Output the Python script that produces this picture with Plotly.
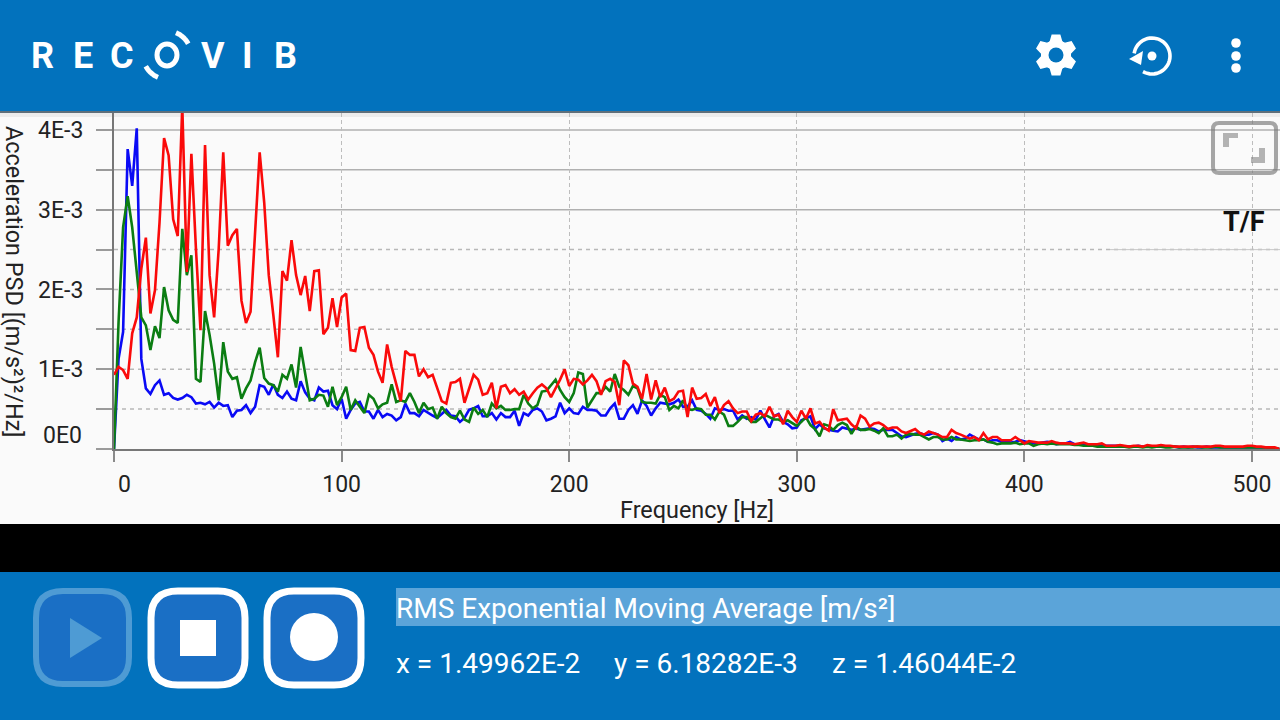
import numpy as np
import plotly.graph_objects as go

# frequency bins [Hz]
freq = [
    0, 2, 4, 6, 8, 10, 12, 14, 16, 18, 20, 22, 24, 26, 28, 30, 32, 34, 36, 38,
    40, 42, 44, 46, 48, 50, 52, 54, 56, 58, 60, 62, 64, 66, 68, 70, 72, 74, 76, 78,
    80, 82, 84, 86, 88, 90, 92, 94, 96, 98, 100, 102, 104, 106, 108, 110, 112, 114, 116, 118,
    120, 122, 124, 126, 128, 130, 132, 134, 136, 138, 140, 142, 144, 146, 148, 150, 152, 154, 156, 158,
    160, 162, 164, 166, 168, 170, 172, 174, 176, 178, 180, 182, 184, 186, 188, 190, 192, 194, 196, 198,
    200, 202, 204, 206, 208, 210, 212, 214, 216, 218, 220, 222, 224, 226, 228, 230, 232, 234, 236, 238,
    240, 242, 244, 246, 248, 250, 252, 254, 256, 258, 260, 262, 264, 266, 268, 270, 272, 274, 276, 278,
    280, 282, 284, 286, 288, 290, 292, 294, 296, 298, 300, 302, 304, 306, 308, 310, 312, 314, 316, 318,
    320, 322, 324, 326, 328, 330, 332, 334, 336, 338, 340, 342, 344, 346, 348, 350, 352, 354, 356, 358,
    360, 362, 364, 366, 368, 370, 372, 374, 376, 378, 380, 382, 384, 386, 388, 390, 392, 394, 396, 398,
    400, 402, 404, 406, 408, 410, 412, 414, 416, 418, 420, 422, 424, 426, 428, 430, 432, 434, 436, 438,
    440, 442, 444, 446, 448, 450, 452, 454, 456, 458, 460, 462, 464, 466, 468, 470, 472, 474, 476, 478,
    480, 482, 484, 486, 488, 490, 492, 494, 496, 498, 500, 502, 504, 506, 508, 510, 512,
]

# PSD per axis, in 1E-3 (m/s²)²/Hz
psd_x = [
    0, 1.13, 1.47, 3.76, 3.30, 4.02, 1.13, .76, .69, .80,
    .86, .68, .70, .64, .62, .64, .68, .65, .57, .58,
    .56, .59, .52, .58, .54, .55, .40, .48, .49, .55,
    .45, .53, .80, .78, .68, .81, .68, .64, .72, .63,
    .61, .85, .71, .63, .61, .77, .72, .73, .55, .50,
    .63, .38, .49, .57, .59, .47, .47, .38, .49, .40,
    .44, .42, .36, .40, .57, .45, .45, .41, .49, .45,
    .42, .39, .44, .49, .42, .41, .34, .39, .49, .51,
    .54, .41, .41, .45, .37, .45, .40, .40, .48, .29,
    .45, .42, .49, .51, .47, .36, .38, .41, .58, .45,
    .51, .45, .44, .53, .49, .49, .48, .42, .42, .51,
    .57, .38, .38, .49, .55, .44, .61, .54, .42, .51,
    .58, .57, .56, .58, .62, .53, .53, .61, .49, .48,
    .44, .38, .51, .49, .50, .48, .48, .37, .42, .38,
    .40, .37, .48, .37, .27, .41, .44, .34, .31, .26,
    .27, .36, .38, .41, .25, .31, .26, .24, .23, .22,
    .27, .25, .24, .26, .24, .25, .26, .25, .22, .24,
    .24, .24, .20, .16, .15, .17, .19, .20, .18, .18,
    .20, .18, .10, .13, .10, .15, .12, .13, .18, .15,
    .12, .12, .09, .11, .11, .09, .10, .08, .09, .11,
    .09, .08, .07, .07, .08, .09, .08, .06, .07, .07,
    .09, .06, .06, .05, .05, .05, .04, .04, .04, .04,
    .04, .04, .03, .03, .03, .04, .03, .03, .03, .03,
    .03, .03, .03, .03, .02, .03, .02, .03, .02, .02,
    .03, .02, .02, .02, .02, .02, .02, .02, .02, .02,
    .02, .02, .02, .02, .01, .01, .00,
]
psd_y = [
    0, 1.59, 2.78, 3.17, 2.78, 2.18, 1.65, 1.55, 1.24, 1.54,
    1.39, 2.03, 1.74, 1.62, 1.58, 2.76, 2.18, 2.43, .88, .84,
    1.73, 1.43, 1.07, .61, 1.34, .97, .88, .90, .63, .76,
    .86, 1.09, 1.27, .89, .82, .80, .72, .93, .88, 1.06,
    .77, 1.28, .93, .61, .63, .68, .67, .53, .78, .55,
    .65, .78, .49, .61, .53, .45, .68, .63, .51, .56,
    .58, .81, .59, .61, .59, .70, .59, .45, .58, .50,
    .52, .38, .53, .45, .40, .38, .48, .37, .34, .52,
    .44, .49, .40, .57, .51, .54, .49, .49, .50, .50,
    .68, .57, .51, .55, .72, .73, .80, .87, .74, .65,
    .59, .70, .96, .94, .52, .61, .70, .70, .78, .72,
    .94, .78, .74, .68, .79, .76, .59, .58, .58, .57,
    .68, .65, .49, .54, .51, .61, .50, .49, .51, .50,
    .43, .43, .37, .47, .43, .29, .29, .34, .40, .40,
    .34, .34, .38, .43, .40, .37, .37, .34, .36, .32,
    .29, .34, .40, .30, .25, .16, .31, .29, .24, .30,
    .33, .30, .19, .28, .24, .24, .25, .23, .20, .26,
    .16, .16, .18, .13, .18, .19, .18, .18, .15, .12,
    .15, .15, .12, .12, .15, .12, .12, .11, .10, .11,
    .11, .12, .09, .08, .06, .07, .07, .07, .08, .06,
    .07, .07, .04, .06, .07, .06, .07, .06, .06, .06,
    .06, .05, .05, .04, .04, .04, .03, .03, .03, .03,
    .03, .03, .03, .02, .03, .03, .02, .03, .02, .03,
    .03, .02, .02, .03, .02, .02, .02, .02, .03, .02,
    .02, .02, .03, .02, .02, .02, .02, .02, .02, .02,
    .02, .02, .02, .02, .02, .01, .00,
]
psd_z = [
    .93, 1.03, .99, .88, 1.45, 1.65, 2.26, 2.65, 1.70, 1.99,
    2.84, 3.90, 3.68, 2.88, 2.67, 4.30, 2.22, 3.70, 2.51, 1.49,
    3.81, 2.18, 1.65, 2.51, 3.72, 2.55, 2.68, 2.76, 1.86, 1.58,
    1.72, 2.76, 3.72, 3.09, 2.18, 1.68, 1.15, 2.23, 2.11, 2.62,
    2.18, 1.93, 2.17, 1.73, 2.23, 2.24, 1.44, 1.52, 1.89, 1.53,
    1.90, 1.95, 1.24, 1.23, 1.52, 1.53, 1.27, 1.18, .97, .83,
    1.31, 1.03, .80, .60, 1.23, 1.18, 1.18, .91, 1.00, .90,
    .93, .76, .60, .57, .83, .84, .88, .58, .76, .93,
    .87, .68, .70, .83, .51, .78, .80, .70, .75, .68,
    .72, .62, .70, .77, .81, .76, .65, .76, .87, 1.00,
    .79, .88, .87, .81, .86, .93, .85, .68, .85, .88,
    .84, .55, 1.11, 1.05, .82, .78, .63, .94, .62, .86,
    .65, .77, .60, .63, .72, .73, .40, .77, .63, .64,
    .69, .54, .65, .45, .55, .60, .51, .45, .47, .47,
    .35, .43, .45, .41, .53, .41, .43, .31, .48, .40,
    .34, .48, .38, .51, .32, .34, .27, .23, .50, .36,
    .37, .38, .31, .26, .42, .38, .28, .32, .33, .30,
    .25, .27, .27, .22, .20, .22, .25, .20, .18, .22,
    .20, .18, .15, .15, .24, .20, .18, .15, .13, .15,
    .11, .20, .12, .15, .15, .11, .11, .11, .15, .11,
    .07, .10, .09, .08, .08, .08, .10, .08, .07, .07,
    .07, .06, .07, .08, .06, .06, .06, .07, .04, .04,
    .04, .05, .04, .03, .04, .04, .03, .05, .04, .04,
    .05, .04, .04, .03, .03, .03, .03, .03, .03, .03,
    .03, .03, .04, .04, .03, .03, .03, .03, .03, .04,
    .04, .03, .03, .02, .02, .02, .00,
]
assert len(freq) == len(psd_x) == len(psd_y) == len(psd_z)

x_ticks = [0, 100, 200, 300, 400, 500]
x_labels = ["", "100", "200", "300", "400", "500"]
y_ticks = [0, .5, 1, 1.5, 2, 2.5, 3, 3.5, 4]
y_labels = ["", "", "1E-3", "", "2E-3", "", "3E-3", "", "4E-3"]
solid_levels = [3, 3.5, 4]
dashed_levels = [.5, 1, 1.5, 2, 2.5]

FONT = "Roboto"
BLUE = "#0272BD"
BUTTON = "#1A6FC5"
WHITE = "#FFFFFF"
FADED = "#5BA4D9"
FADED_DIM = "#4E9BD4"


# the app chrome is positioned in screen pixels
def px(x):
    return x / 1280


def py(y):
    return 1 - y / 720


def path(points, close=True):
    d = "M" + " L".join(f"{px(x):.5f},{py(y):.5f}" for x, y in points)
    return d + (" Z" if close else "")


def rect(x0, y0, x1, y1, fill):
    return dict(type="rect", xref="paper", yref="paper", x0=px(x0), x1=px(x1), y0=py(y1), y1=py(y0),
                fillcolor=fill, line_width=0, layer="below")


def circle(cx, cy, r, fill, layer="above"):
    return dict(type="circle", xref="paper", yref="paper", x0=px(cx - r), x1=px(cx + r),
                y0=py(cy + r), y1=py(cy - r), fillcolor=fill, line_width=0, layer=layer)


def poly(points, fill):
    return dict(type="path", xref="paper", yref="paper", path=path(points), fillcolor=fill, line_width=0)


def round_rect(x0, y0, x1, y1, r, stroke, width, fill="rgba(0,0,0,0)"):
    d = (f"M{px(x0 + r):.5f},{py(y0):.5f} L{px(x1 - r):.5f},{py(y0):.5f} "
         f"Q{px(x1):.5f},{py(y0):.5f} {px(x1):.5f},{py(y0 + r):.5f} L{px(x1):.5f},{py(y1 - r):.5f} "
         f"Q{px(x1):.5f},{py(y1):.5f} {px(x1 - r):.5f},{py(y1):.5f} L{px(x0 + r):.5f},{py(y1):.5f} "
         f"Q{px(x0):.5f},{py(y1):.5f} {px(x0):.5f},{py(y1 - r):.5f} L{px(x0):.5f},{py(y0 + r):.5f} "
         f"Q{px(x0):.5f},{py(y0):.5f} {px(x0 + r):.5f},{py(y0):.5f} Z")
    return dict(type="path", xref="paper", yref="paper", path=d, fillcolor=fill,
                line=dict(color=stroke, width=width))


def arc(cx, cy, r, a0, a1, width, color=WHITE):
    t = np.radians(np.linspace(a0, a1, 40))
    pts = list(zip(cx + r * np.cos(t), cy + r * np.sin(t)))
    return dict(type="path", xref="paper", yref="paper", path=path(pts, close=False),
                line=dict(color=color, width=width))


def gear(cx, cy, r_out, r_in, teeth=6):
    pts = []
    step = 360 / teeth
    for k in range(teeth):
        a = -90 + k * step
        for da, r in [(-step * .42, r_in), (-step * .2, r_out), (step * .2, r_out), (step * .42, r_in)]:
            t = np.radians(a + da)
            pts.append((cx + r * np.cos(t), cy + r * np.sin(t)))
    return pts


def label(x, y, text, size, color="#222222", anchor="center", bold=False, angle=0):
    return dict(xref="paper", yref="paper", x=px(x), y=py(y), text=f"<b>{text}</b>" if bold else text,
                showarrow=False, xanchor=anchor, yanchor="middle", textangle=angle,
                font=dict(family=FONT, size=size, color=color))


fig = go.Figure()
for values, name, color in [(psd_x, "x", "#0A0AF5"), (psd_y, "y", "#0B7D12"), (psd_z, "z", "#FA0A0A")]:
    fig.add_trace(go.Scatter(x=freq, y=[v * 1e-3 for v in values], mode="lines", name=name,
                             line=dict(color=color, width=2.6)))

shapes = [
    rect(0, 113, 1280, 524, "#FAFAFA"),
    rect(0, 524, 1280, 572, "#000000"),
    rect(0, 111, 1280, 113, "#5F6F7A"),
    rect(0, 113, 1280, 117, "#ECECEC"),
    rect(396, 588, 1280, 626, FADED),
]
for level in solid_levels:
    shapes.append(dict(type="line", xref="paper", yref="y", x0=px(114), x1=1, y0=level * 1e-3, y1=level * 1e-3,
                       line=dict(color="#B0B0B0", width=1.5), layer="below"))
for level in dashed_levels:
    shapes.append(dict(type="line", xref="paper", yref="y", x0=px(114), x1=1, y0=level * 1e-3, y1=level * 1e-3,
                       line=dict(color="#B8B8B8", width=1.5, dash="4px,4px"), layer="below"))
shapes.append(dict(type="line", xref="paper", yref="y", x0=px(1110), x1=1, y0=2.5e-3, y1=2.5e-3,
                   line=dict(color="#C8C8C8", width=1), layer="below"))

shapes += [
    # logo rings
    dict(type="circle", xref="paper", yref="paper", x0=px(157), x1=px(177), y0=py(66), y1=py(44),
         fillcolor="rgba(0,0,0,0)", line=dict(color=WHITE, width=5)),
    arc(167, 55, 24, -68, -28, 5),
    arc(167, 55, 24, 112, 152, 5),
    # toolbar icons
    poly(gear(1056, 55, 21, 15), WHITE),
    circle(1056, 55, 15, WHITE),
    circle(1056, 55, 7.5, BLUE),
    arc(1152, 56, 18, 120, -172, 3.6),
    poly([(1129, 59), (1143, 51), (1141, 65)], WHITE),
    circle(1152, 56, 4.5, WHITE),
    circle(1236, 43, 4.8, WHITE),
    circle(1236, 56, 4.8, WHITE),
    circle(1236, 68, 4.8, WHITE),
    # full screen button
    round_rect(1213, 123, 1276, 173, 6, "rgba(120,120,120,.65)", 4),
    poly([(1223, 133), (1238, 133), (1238, 138), (1229, 138), (1229, 147), (1223, 147)], "rgba(120,120,120,.55)"),
    poly([(1265, 148), (1265, 163), (1251, 163), (1251, 157), (1259, 157), (1259, 148)], "rgba(120,120,120,.55)"),
    # transport buttons
    round_rect(36, 591, 129, 684, 27, FADED_DIM, 6, BUTTON),
    poly([(70, 618), (102, 638), (70, 658)], FADED_DIM),
    round_rect(151, 591, 245, 685, 27, WHITE, 7, BUTTON),
    rect(180, 620, 216, 656, WHITE) | {"layer": "above"},
    round_rect(267, 591, 361, 685, 27, WHITE, 7, BUTTON),
    circle(314, 637, 24, WHITE),
]

annotations = [
    label(14, 282, "Acceleration PSD [(m/s²)²/Hz]", 23.4, angle=90),
    label(697, 510, "Frequency [Hz]", 23.4),
    label(124, 484, "0", 23),
    label(62, 436, "0E0", 23),
    label(1244, 222, "T/F", 27, color="#111111", bold=True),
    label(394, 608, "RMS Exponential Moving Average [m/s²]", 28, WHITE, "left"),
    label(394, 663, "x = 1.49962E-2", 28, WHITE, "left"),
    label(612, 663, "y = 6.18282E-3", 28, WHITE, "left"),
    label(830, 663, "z = 1.46044E-2", 28, WHITE, "left"),
]
for x, letter in [(42, "R"), (83, "E"), (122, "C"), (213, "V"), (247, "I"), (285, "B")]:
    annotations.append(label(x, 56, letter, 36, WHITE, bold=True))

fig.update_layout(
    width=1280, height=720, autosize=False, showlegend=False,
    margin=dict(l=0, r=0, t=0, b=0),
    paper_bgcolor=BLUE, plot_bgcolor="rgba(0,0,0,0)",
    font=dict(family=FONT, size=23, color="#222222"),
    shapes=shapes, annotations=annotations,
    xaxis=dict(domain=[px(114), 1], range=[0, 512.3], tickvals=x_ticks, ticktext=x_labels,
               ticks="outside", ticklen=11, tickwidth=2, tickcolor="#8A8A8A",
               showline=True, linecolor="#777777", linewidth=2,
               showgrid=True, gridcolor="#BDBDBD", griddash="4px,3px", gridwidth=1, zeroline=False,
               ticklabelstandoff=2),
    yaxis=dict(domain=[py(449), py(113)], range=[0, 4.213e-3], tickvals=[v * 1e-3 for v in y_ticks], ticktext=y_labels,
               ticks="outside", ticklen=16, tickwidth=1.5, tickcolor="#9A9A9A",
               showline=True, linecolor="#777777", linewidth=2,
               showgrid=False, zeroline=False, ticklabelstandoff=8),
)

fig.write_html("out.html", config={"displayModeBar": False}, post_script="document.body.style.margin='0';")
